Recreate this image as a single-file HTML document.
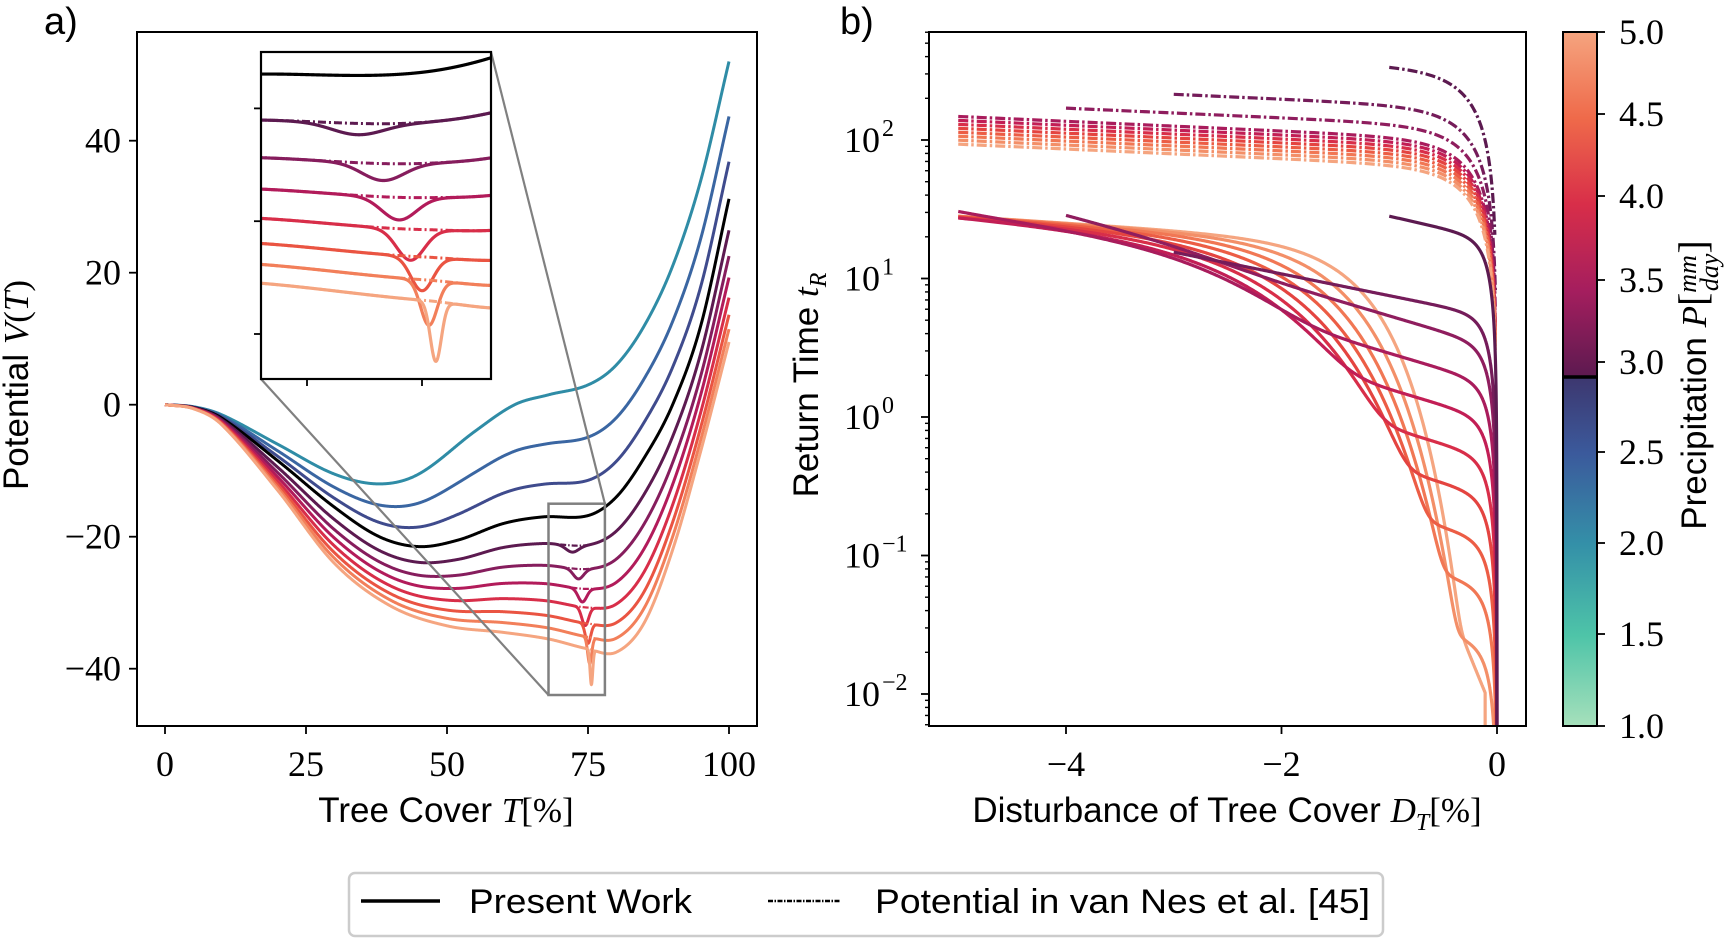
<!DOCTYPE html>
<html><head><meta charset="utf-8"><style>
html,body{margin:0;padding:0;background:#fff;}
svg text{font-family:"Liberation Sans",sans-serif;}
.s{font-family:"Liberation Serif",serif;}
</style></head><body>
<svg id="sv" width="1725" height="939" xmlns="http://www.w3.org/2000/svg">
<defs>
<clipPath id="ca"><rect x="137" y="32" width="620" height="694"/></clipPath>
<clipPath id="ci"><rect x="261" y="52" width="230" height="327"/></clipPath>
<clipPath id="cb"><rect x="929" y="32" width="597" height="694"/></clipPath>
<linearGradient id="gw" x1="0" y1="0" x2="0" y2="1">
<stop offset="0" stop-color="#f5a47f"/><stop offset="0.25" stop-color="#ef6a4a"/>
<stop offset="0.5" stop-color="#d82e49"/><stop offset="0.75" stop-color="#a51e5e"/>
<stop offset="1" stop-color="#5c1a50"/></linearGradient>
<linearGradient id="gc" x1="0" y1="0" x2="0" y2="1">
<stop offset="0" stop-color="#3d376f"/><stop offset="0.22" stop-color="#3b5a9c"/>
<stop offset="0.48" stop-color="#3490a8"/><stop offset="0.74" stop-color="#4ec4a8"/>
<stop offset="1" stop-color="#a6e0bb"/></linearGradient>
</defs>
<g id="ga" clip-path="url(#ca)"></g>
<g id="gi" clip-path="url(#ci)"></g>
<g id="gb" clip-path="url(#cb)"></g>
<g id="ax"></g>
</svg>
<script>
var NS="http://www.w3.org/2000/svg";
function el(p,t,a,txt){var e=document.createElementNS(NS,t);for(var k in a)e.setAttribute(k,a[k]);if(txt!==undefined)e.textContent=txt;p.appendChild(e);return e;}
function herm(tab){var xs=tab.map(function(p){return p[0]}),ys=tab.map(function(p){return p[1]}),n=xs.length,m=[];
for(var i=0;i<n;i++){if(i==0)m.push((ys[1]-ys[0])/(xs[1]-xs[0]));else if(i==n-1)m.push((ys[n-1]-ys[n-2])/(xs[n-1]-xs[n-2]));else m.push((ys[i+1]-ys[i-1])/(xs[i+1]-xs[i-1]));}
return function(x){if(x<=xs[0])return ys[0];if(x>=xs[n-1])return ys[n-1];var i=0;while(x>xs[i+1])i++;var h=xs[i+1]-xs[i],t=(x-xs[i])/h,t2=t*t,t3=t2*t;
return (2*t3-3*t2+1)*ys[i]+(t3-2*t2+t)*h*m[i]+(-2*t3+3*t2)*ys[i+1]+(t3-t2)*h*m[i+1];};}
function hex(c){return [parseInt(c.substr(1,2),16),parseInt(c.substr(3,2),16),parseInt(c.substr(5,2),16)];}
function cmap(stops,v){for(var i=0;i<stops.length-1;i++){if(v<=stops[i+1][0]){var f=(v-stops[i][0])/(stops[i+1][0]-stops[i][0]);var a=hex(stops[i][1]),b=hex(stops[i+1][1]);return "rgb("+[0,1,2].map(function(j){return Math.round(a[j]+f*(b[j]-a[j]))}).join(",")+")";}}return stops[stops.length-1][1];}
var rocket=[[3.0,"#5c1a50"],[3.25,"#7b1d5d"],[3.5,"#9c1d5e"],[3.75,"#bd1a58"],[4.0,"#d82e49"],[4.25,"#e7493e"],[4.5,"#ef6a4a"],[4.75,"#f38a62"],[5.0,"#f5a580"]];
var ga=document.getElementById("ga"),gi=document.getElementById("gi"),gb=document.getElementById("gb"),ax=document.getElementById("ax");
// ---------- panel a ----------
function XA(T){return 165+T*5.64;} function YA(V){return 404.7-V*6.6;}
function XI(T){return 261+(T-68)*23;} function YI(V){return 52+(-15-V)*11.28;}
var teal=herm([[0,0],[5,-0.3],[10,-1.5],[20,-6],[30,-10.5],[38,-12],[45,-10.5],[55,-4],[62,0],[68,1.5],[75,3],[80,6],[85,12],[90,21],[95,34],[100,52]]);
var blk=herm([[0,0],[5,-0.4],[10,-2],[20,-8.5],[30,-15.5],[38,-20],[45,-21.5],[52,-20.5],[60,-18],[67,-17],[75,-16.8],[80,-14],[85,-8],[90,0],[95,12],[100,31.2]]);
var sal=herm([[0,0],[5,-0.6],[10,-3],[20,-13],[30,-24],[40,-30.5],[50,-33.5],[60,-34.5],[68,-35.5],[75,-37],[80,-37.5],[85,-33],[90,-22],[95,-7],[100,9.5]]);
var curves=[];
[[0,"#2f8ca6"],[0.4,"#3a66a2"],[0.73,"#3f4b8d"]].forEach(function(c){var s=c[0];curves.push({f:function(T){return teal(T)*(1-s)+blk(T)*s;},col:c[1],dip:null});});
curves.push({f:blk,col:"#000",dip:null});
var wt=[0.22,0.40,0.55,0.69,0.81,0.91,1.0],dc=[72.2,73.3,74.0,74.5,75.0,75.3,75.6],dd=[1.0,1.5,2.0,2.75,3.0,4.0,5.3],ds=[1.1,0.9,0.75,0.6,0.48,0.36,0.24];
wt.forEach(function(t,i){curves.push({f:function(T){return blk(T)*(1-t)+sal(T)*t;},col:cmap(rocket,3+2*i/6),dip:[dc[i],dd[i],ds[i]]});});
function pathA(c,X,Y,t0,t1,st,withDip){var d="";for(var T=t0;T<=t1+1e-9;T+=st){var v=c.f(T);if(withDip&&c.dip)v-=c.dip[1]*Math.exp(-Math.pow((T-c.dip[0])/c.dip[2],2)/2);d+=(d?"L":"M")+X(T).toFixed(2)+","+Y(v).toFixed(2);}return d;}
curves.forEach(function(c){
 if(c.dip){el(ga,"path",{d:pathA(c,XA,YA,66,80,0.1,false),fill:"none",stroke:c.col,"stroke-width":2.2,"stroke-dasharray":"6 2 1.5 2"});}
 el(ga,"path",{d:pathA(c,XA,YA,0,100,0.05,true),fill:"none",stroke:c.col,"stroke-width":3,"stroke-linejoin":"round"});
 if(c.dip){el(gi,"path",{d:pathA(c,XI,YI,67,79,0.05,false),fill:"none",stroke:c.col,"stroke-width":3,"stroke-dasharray":"8 3 2 3"});}
 el(gi,"path",{d:pathA(c,XI,YI,67,79,0.01,true),fill:"none",stroke:c.col,"stroke-width":3.2,"stroke-linejoin":"round"});
});
el(ax,"rect",{x:548.5,y:503.7,width:56.4,height:191.3,fill:"none",stroke:"#808080","stroke-width":2.5});
el(ax,"line",{x1:491,y1:52,x2:604.9,y2:503.7,stroke:"#808080","stroke-width":2.2});
el(ax,"line",{x1:261,y1:379,x2:548.5,y2:695,stroke:"#808080","stroke-width":2.2});
el(ax,"rect",{x:261,y:52,width:230,height:327,fill:"none",stroke:"#000","stroke-width":2.2});
[-20,-30,-40].forEach(function(v){el(ax,"line",{x1:254,x2:261,y1:YI(v),y2:YI(v),stroke:"#000","stroke-width":1.8});});
[70,75].forEach(function(t){el(ax,"line",{x1:XI(t),x2:XI(t),y1:379,y2:386,stroke:"#000","stroke-width":1.8});});
el(ax,"rect",{x:137,y:32,width:620,height:694,fill:"none",stroke:"#000","stroke-width":2});
[0,25,50,75,100].forEach(function(t){var x=XA(t);el(ax,"line",{x1:x,x2:x,y1:726,y2:734,stroke:"#000","stroke-width":1.8});el(ax,"text",{x:x,y:776,"text-anchor":"middle","font-size":36,"class":"s"},String(t));});
[-40,-20,0,20,40].forEach(function(v){var y=YA(v);el(ax,"line",{x1:129,x2:137,y1:y,y2:y,stroke:"#000","stroke-width":1.8});el(ax,"text",{x:121,y:y+12,"text-anchor":"end","font-size":36,"class":"s"},(v<0?"\u2212":"")+Math.abs(v));});
// ---------- panel b ----------
function XB(D){return 1497+D*107.75;} function YB(L){return 140+(2-L)*138.5;}
function smaxw(a,b,w){var m=Math.max(a,b);return m+w*Math.log(Math.exp((a-m)/w)+Math.exp((b-m)/w));}
function mkEnv(f){var lA=Math.log(4.14)*(1-f)+Math.log(5.89)*f,A=Math.exp(lA),w=1.097*(1-f)+0.45*f;
 return function(D){var L=1.45-0.05*(D+5)-A*Math.exp(D/w);
  if(f>=1){if(D>-0.75)L=smaxw(L,-1.25-1.9*(D+0.5),0.08);if(D>-0.11)L=-4;}return L;};}
function plg(D){return Math.log(1-Math.exp(D/0.1))/Math.LN10;}
var Pk=[1.32,0.76,0.56,0.29,0.03,-0.25,-0.53,-0.85,-1.19,-1.6,-9];
var Dst=[-1,-3,-4,-5,-5,-5,-5,-5,-5,-5,-5];
var Qk=[2.54,2.33,2.23];
for(var k=0;k<11;k++){var col=cmap(rocket,3+0.2*k);
 var q=k<3?Qk[k]:2.17-(k-3)*0.2/7, d0=Dst[k], d="";
 for(var D=d0;D<=-0.015;D+=(D>-0.5?0.005:0.05)){var L=q-0.035*(D-d0)+Math.log(1-Math.exp(D/0.3))/Math.LN10;d+=(d?"L":"M")+XB(D).toFixed(2)+","+YB(L).toFixed(2);}
 el(gb,"path",{d:d,fill:"none",stroke:col,"stroke-width":3.2,"stroke-dasharray":"10 3 2.5 3"});}
for(var k=10;k>=0;k--){var col=cmap(rocket,3+0.2*k),d0=Dst[k],d="";
 var f=Math.max(0,(k-2)/8), env=mkEnv(f);
 var slope=k==1?0.157:0.23;
 for(var D=d0;D<0;D+=(D>-0.3?0.0005:0.01)){
  var pl=Pk[k]-slope*(D+0.26);
  if(k==0)pl=1.45-(1.45-1.32)*(D+1)/0.74;
  var L=(k<2)?pl:smaxw(env(D),pl,0.12);
  if(k==10)L=env(D);
  if(k!=10)L+=plg(D); if(L<-3)L=-3;
  d+=(d?"L":"M")+XB(D).toFixed(2)+","+YB(L).toFixed(2);
  if(L<=-3)break;}
 d+="L"+XB(k==10?-0.11:0).toFixed(2)+","+YB(-3);
 el(gb,"path",{d:d,fill:"none",stroke:col,"stroke-width":3.2,"stroke-linejoin":"round"});}
el(ax,"rect",{x:929,y:32,width:597,height:694,fill:"none",stroke:"#000","stroke-width":2});
[-4,-2,0].forEach(function(t){var x=XB(t);el(ax,"line",{x1:x,x2:x,y1:726,y2:734,stroke:"#000","stroke-width":1.8});el(ax,"text",{x:x,y:776,"text-anchor":"middle","font-size":36,"class":"s"},(t<0?"\u2212":"")+Math.abs(t));});
for(var e=-3;e<=2;e++){for(var m=1;m<10;m++){var L=e+Math.log(m)/Math.LN10,y=YB(L);if(y<32||y>726)continue;
 el(ax,"line",{x1:m==1?921:925,x2:929,y1:y,y2:y,stroke:"#000","stroke-width":m==1?1.8:1.4});}
 if(e>=-2){var y=YB(e);el(ax,"text",{x:880,y:y+12,"text-anchor":"end","font-size":36,"class":"s"},"10");
 el(ax,"text",{x:882,y:y-4,"font-size":24,"class":"s"},(e<0?"\u2212":"")+Math.abs(e));}}
el(ax,"rect",{x:1563,y:32,width:34,height:345,fill:"url(#gw)"});
el(ax,"rect",{x:1563,y:377,width:34,height:349,fill:"url(#gc)"});
el(ax,"line",{x1:1563,x2:1597,y1:377,y2:377,stroke:"#000","stroke-width":3.5});
el(ax,"rect",{x:1563,y:32,width:34,height:694,fill:"none",stroke:"#000","stroke-width":2});
[[5.0,32],[4.5,114],[4.0,196],[3.5,280],[3.0,362],[2.5,452],[2.0,543],[1.5,634],[1.0,726]].forEach(function(p){
 el(ax,"line",{x1:1597,x2:1605,y1:p[1],y2:p[1],stroke:"#000","stroke-width":1.8});
 el(ax,"text",{x:1619,y:p[1]+12,"font-size":36,"class":"s"},p[0].toFixed(1));});
</script>
<svg style="position:absolute;left:0;top:0" width="1725" height="939" xmlns="http://www.w3.org/2000/svg">
<text x="44" y="34" font-size="38">a)</text>
<text x="840" y="34" font-size="38">b)</text>
<text x="446" y="822" text-anchor="middle" font-size="35">Tree Cover <tspan class="s" font-style="italic">T</tspan><tspan class="s">[%]</tspan></text>
<text x="1227" y="822" text-anchor="middle" font-size="35">Disturbance of Tree Cover <tspan class="s" font-style="italic">D</tspan><tspan class="s" font-style="italic" font-size="24" dy="8">T</tspan><tspan class="s" dy="-8">[%]</tspan></text>
<text transform="translate(28,385) rotate(-90)" text-anchor="middle" font-size="35">Potential <tspan class="s" font-style="italic">V</tspan><tspan class="s">(</tspan><tspan class="s" font-style="italic">T</tspan><tspan class="s">)</tspan></text>
<text transform="translate(818,385) rotate(-90)" text-anchor="middle" font-size="35">Return Time <tspan class="s" font-style="italic">t</tspan><tspan class="s" font-style="italic" font-size="24" dy="8">R</tspan></text>
<text transform="translate(1706,385) rotate(-90)" text-anchor="middle" font-size="35">Precipitation <tspan class="s" font-style="italic">P</tspan><tspan class="s" font-size="40">[</tspan><tspan class="s" font-style="italic" font-size="26" dy="-10">mm</tspan><tspan class="s" font-style="italic" font-size="26" dx="-36" dy="22">day</tspan><tspan class="s" font-size="40" dy="-12">]</tspan></text>
<rect x="349" y="873" width="1034" height="63" rx="6" fill="#fff" stroke="#cccccc" stroke-width="2.5"/>
<line x1="361" y1="901" x2="440" y2="901" stroke="#000" stroke-width="3.5"/>
<text x="469" y="913" font-size="34" textLength="223" lengthAdjust="spacingAndGlyphs">Present Work</text>
<line x1="768" y1="901" x2="840" y2="901" stroke="#000" stroke-width="2.5" stroke-dasharray="5 1.5 1.5 1.5"/>
<text x="875" y="913" font-size="34" textLength="495" lengthAdjust="spacingAndGlyphs">Potential in van Nes et al. [45]</text>
</svg>
</body></html>
